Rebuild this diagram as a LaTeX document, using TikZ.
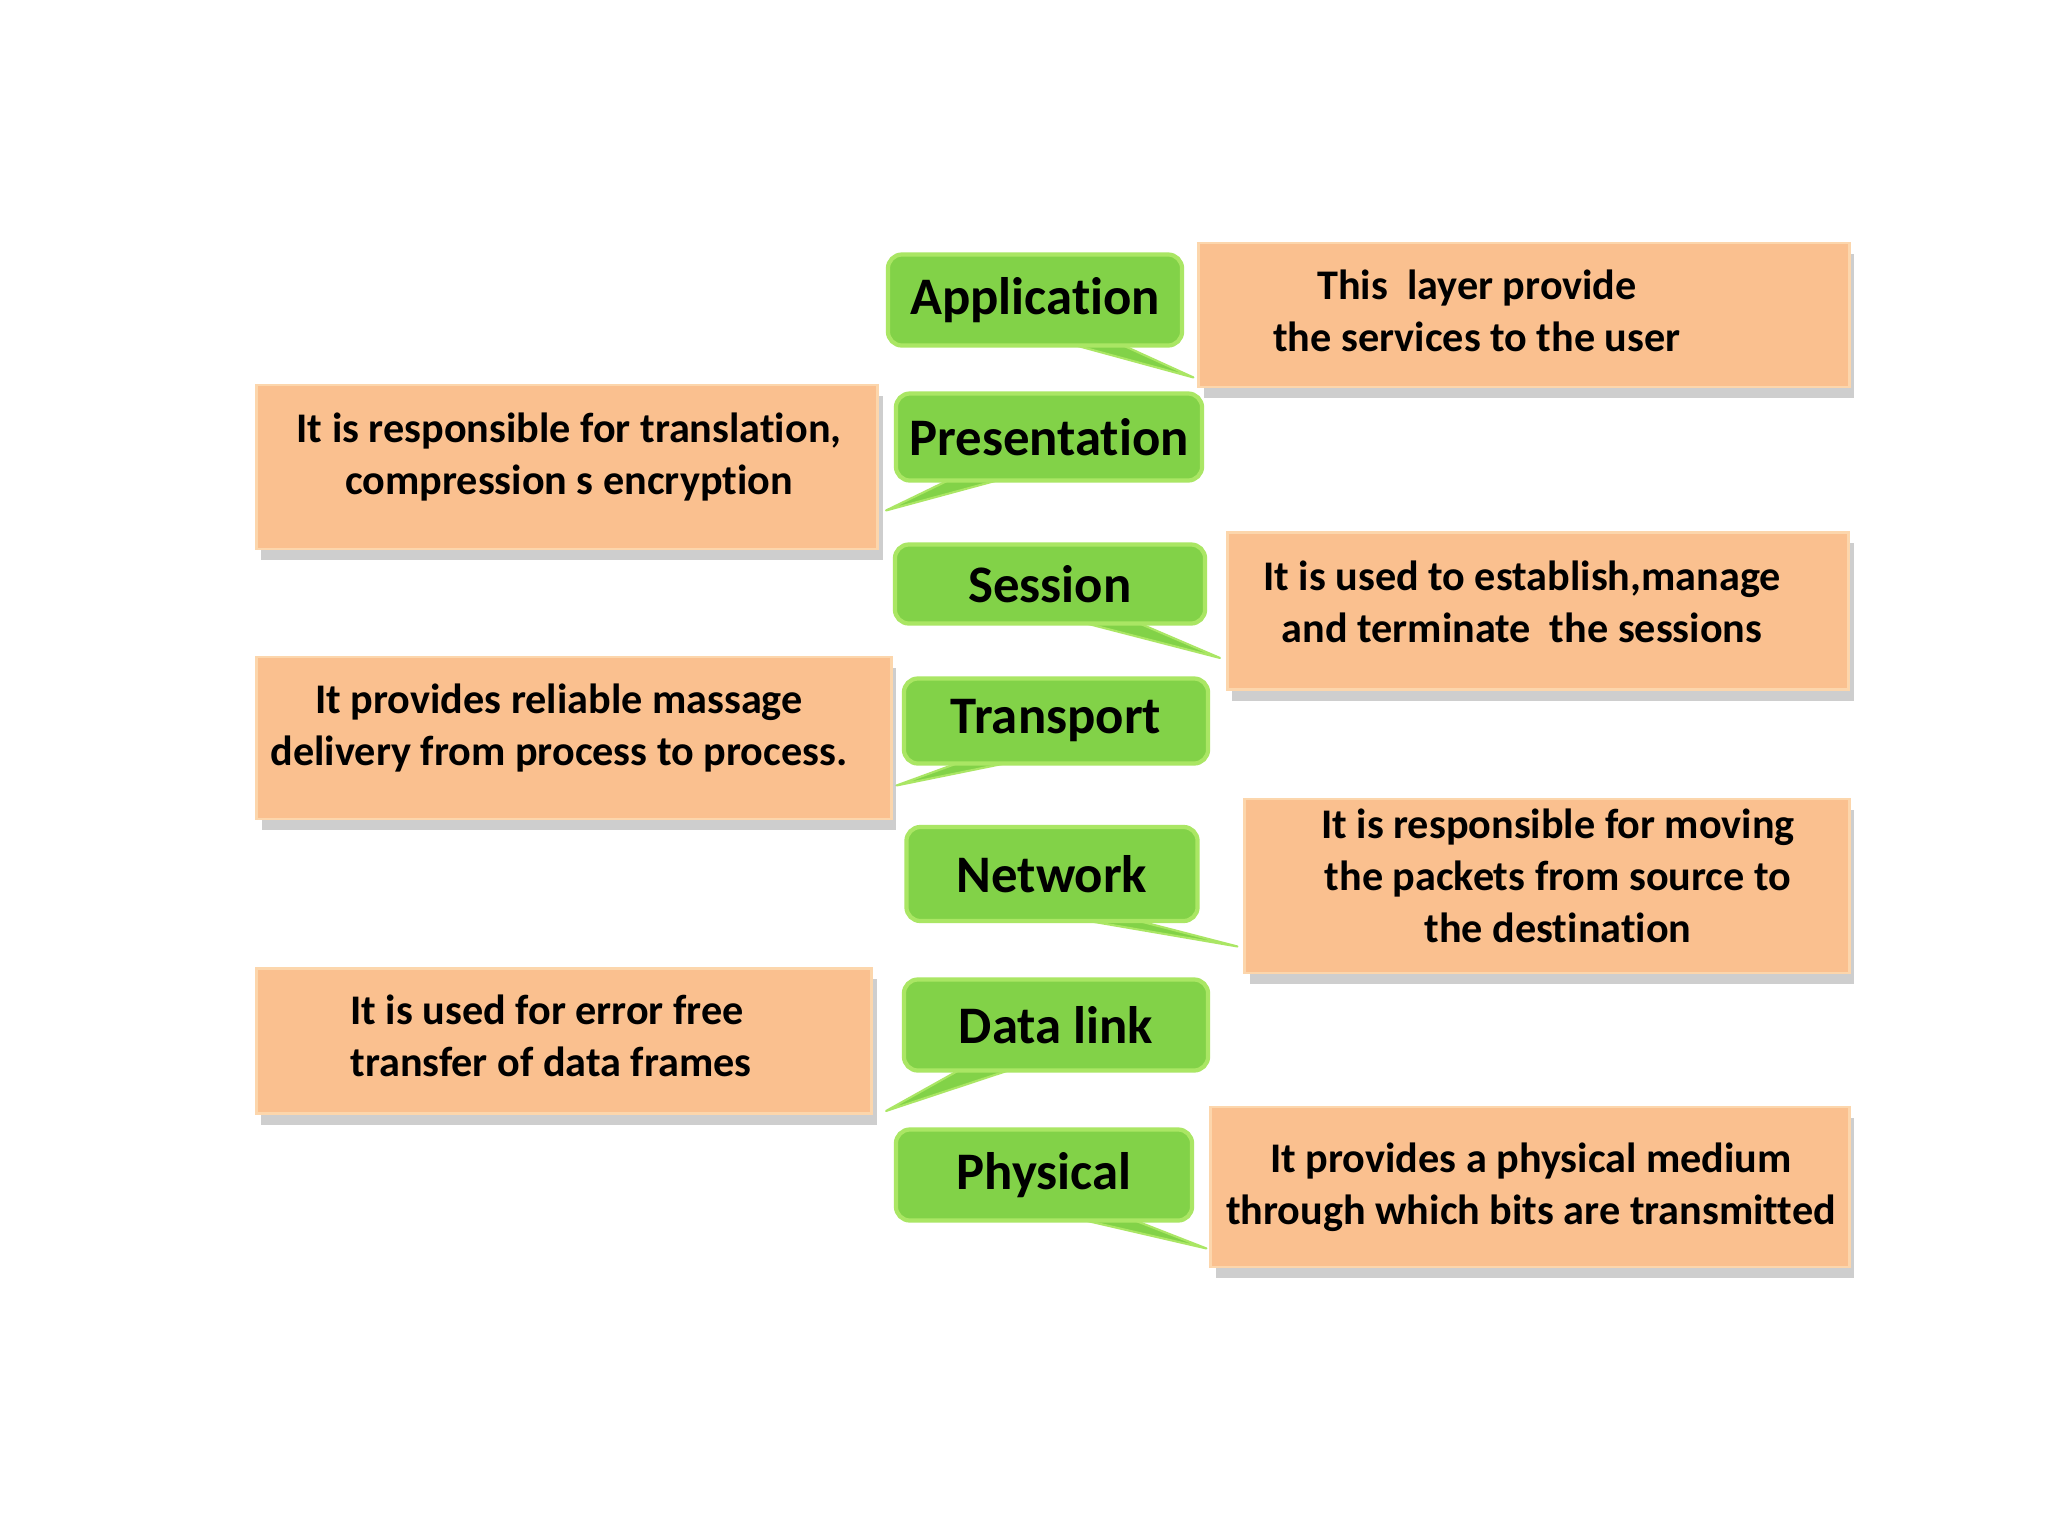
\documentclass[tikz,border=0pt]{standalone}
\usepackage{fontspec}
\setmainfont{Carlito}[Ligatures=NoCommon]
\usetikzlibrary{calc,shadows,backgrounds}
\definecolor{layergreen}{RGB}{130,210,72}
\definecolor{layeredge}{RGB}{170,230,100}
\definecolor{descorange}{RGB}{250,192,143}
\definecolor{descedge}{RGB}{252,214,172}

\begin{document}
\begin{tikzpicture}[
    x=0.01cm, y=-0.01cm,
    every node/.style={align=center, text=black},
    layerbox/.style={rectangle, rounded corners=4pt, draw=layeredge, fill=layergreen, line width=1.2pt, minimum width=30mm, minimum height=8.8mm, font=\fontsize{15}{18}\selectfont\bfseries},
    descbox/.style={rectangle, draw=descedge, fill=descorange, line width=0.8pt, drop shadow={shadow xshift=0.5mm, shadow yshift=-1.1mm, fill=black!55, opacity=.35}},
    desctext/.style={font=\fontsize{12}{14.8}\selectfont\bfseries},
    tail/.style={fill=layergreen, draw=layeredge, line width=0.6pt, line join=round}
]
\useasboundingbox (0,0) rectangle (2048,1536);

% Layers (green callouts)
\node[layerbox, minimum width=29.4mm, minimum height=9.1mm] (app) at (1035,300) {Application};
\node[layerbox, minimum width=30.6mm, minimum height=8.7mm] (pres) at (1049,437) {Presentation};
\node[layerbox, minimum width=31.0mm, minimum height=7.9mm] (sess) at (1050,584) {Session};
\node[layerbox, minimum width=30.4mm, minimum height=8.5mm] (trans) at (1056,721) {Transport};
\node[layerbox, minimum width=29.1mm, minimum height=9.4mm] (net) at (1052,874) {Network};
\node[layerbox, minimum width=30.4mm, minimum height=9.1mm] (data) at (1056,1025) {Data link};
\node[layerbox, minimum width=29.6mm, minimum height=9.1mm] (phys) at (1044,1175) {Physical};

% Descriptions (orange boxes)
\node[descbox, minimum width=65.0mm, minimum height=14.4mm] (appd) at (1524,315) {};
\node[descbox, minimum width=62.1mm, minimum height=16.4mm] (presd) at (567,467) {};
\node[descbox, minimum width=62.1mm, minimum height=15.7mm] (sessd) at (1538,611) {};
\node[descbox, minimum width=63.4mm, minimum height=16.2mm] (transd) at (574,738) {};
\node[descbox, minimum width=60.4mm, minimum height=17.4mm] (netd) at (1547,886) {};
\node[descbox, minimum width=61.5mm, minimum height=14.5mm] (datad) at (564,1041) {};
\node[descbox, minimum width=63.8mm, minimum height=16.0mm] (physd) at (1530,1187) {};

\node[desctext] (appt) at (1477,311) {This\ \ layer provide\\the services to the user};
\node[desctext] (prest) at (569,457) {It is responsible for translation,\\compression s encryption};
\node[desctext] (sesst) at (1522,602) {It is used to establish,manage\\and terminate\ \ the sessions};
\node[desctext] (transt) at (559,728) {It provides reliable massage\\delivery from process to process.};
\node[desctext] (nett) at (1558,876) {It is responsible for moving\\the packets from source to\\the destination};
\node[desctext, align=left, anchor=west] (datat) at (338,1036) {It is used for error free\\transfer of data frames};
\node[desctext] (physt) at (1531,1187) {It provides a physical medium\\through which bits are transmitted};

% Callout tails
\begin{scope}[on background layer]
\fill[white] (0,0) rectangle (2048,1536);
\filldraw[tail] ($(app.south east)+(-115,-4)$) -- ($(app.south east)+(-65,-4)$) -- ($(appd.south west)+(-4,-11)$) -- cycle;
\filldraw[tail] ($(pres.south west)+(58,-4)$) -- ($(pres.south west)+(110,-4)$) -- ($(presd.south east)+(7,-40)$) -- cycle;
\filldraw[tail] ($(sess.south east)+(-128,-4)$) -- ($(sess.south east)+(-72,-4)$) -- ($(sessd.south west)+(-6,-33)$) -- cycle;
\filldraw[tail] ($(trans.south west)+(60,-4)$) -- ($(trans.south west)+(112,-4)$) -- ($(transd.south east)+(4,-35)$) -- cycle;
\filldraw[tail] ($(net.south east)+(-122,-4)$) -- ($(net.south east)+(-68,-4)$) -- ($(netd.south west)+(-6,-28)$) -- cycle;
\filldraw[tail] ($(data.south west)+(60,-4)$) -- ($(data.south west)+(112,-4)$) -- ($(datad.south east)+(13,-4)$) -- cycle;
\filldraw[tail] ($(phys.south east)+(-117,-4)$) -- ($(phys.south east)+(-64,-4)$) -- ($(physd.south west)+(-3,-20)$) -- cycle;
\end{scope}
\end{tikzpicture}
\end{document}
